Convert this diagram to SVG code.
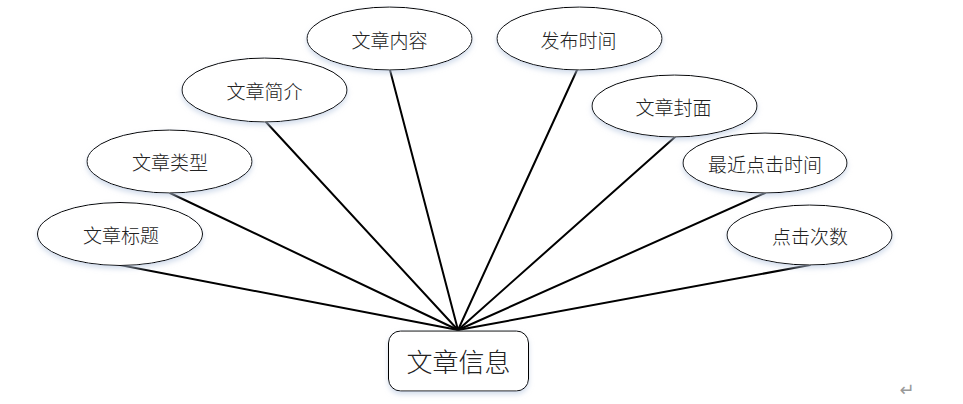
<svg xmlns="http://www.w3.org/2000/svg" width="963" height="404" viewBox="0 0 963 404">
<style>
.n ellipse{fill:#fff;stroke:#000;stroke-width:1;filter:url(#sh)}
.n text{font-family:"Noto Sans CJK SC","Noto Sans CJK JP",sans-serif;font-size:19px;font-weight:300;fill:#222;text-anchor:middle;dominant-baseline:central}
#edges line{stroke:#000;stroke-width:2;stroke-linecap:round}
</style>
<defs>
<filter id="sh" x="-10%" y="-20%" width="120%" height="150%">
<feDropShadow dx="0" dy="3" stdDeviation="2.5" flood-color="#b8c8e0" flood-opacity="0.6"/>
</filter>
</defs>
<rect width="963" height="404" fill="#fff"/>
<g id="edges">
<line x1="120" y1="265" x2="458" y2="330"/>
<line x1="170" y1="193" x2="458" y2="330"/>
<line x1="266" y1="122" x2="458" y2="330"/>
<line x1="390" y1="70" x2="458" y2="330"/>
<line x1="577" y1="70" x2="458" y2="330"/>
<line x1="675" y1="137" x2="458" y2="330"/>
<line x1="765" y1="193" x2="458" y2="330"/>
<line x1="810" y1="265" x2="458" y2="330"/>
</g>
<g id="n1" class="n"><ellipse cx="120" cy="234" rx="82.5" ry="31.5"/><text x="121" y="234">文章标题</text></g>
<g id="n2" class="n"><ellipse cx="169.5" cy="161.5" rx="82.5" ry="31.5"/><text x="170" y="161.5">文章类型</text></g>
<g id="n3" class="n"><ellipse cx="264.5" cy="90" rx="82.5" ry="32"/><text x="264.5" y="90">文章简介</text></g>
<g id="n4" class="n"><ellipse cx="389.5" cy="38.5" rx="82.5" ry="31.5"/><text x="389.5" y="39">文章内容</text></g>
<g id="n5" class="n"><ellipse cx="579.5" cy="38.5" rx="82.5" ry="31.5"/><text x="578.5" y="39">发布时间</text></g>
<g id="n6" class="n"><ellipse cx="674.5" cy="106" rx="82.5" ry="31"/><text x="673.5" y="106">文章封面</text></g>
<g id="n7" class="n"><ellipse cx="765" cy="163" rx="82" ry="30"/><text x="765" y="163">最近点击时间</text></g>
<g id="n8" class="n"><ellipse cx="809.5" cy="235" rx="82.5" ry="30"/><text x="810" y="235">点击次数</text></g>
<g id="center">
<rect x="388.5" y="331" width="140" height="60" rx="12" ry="12" fill="#fff" stroke="#000" stroke-width="1" filter="url(#sh)"/>
<text x="458.5" y="360" font-family="'Noto Sans CJK SC','Noto Sans CJK JP',sans-serif" font-size="26" font-weight="300" fill="#222" text-anchor="middle" dominant-baseline="central">文章信息</text>
</g>
<text x="907" y="396" font-family="'DejaVu Sans',sans-serif" font-size="18" fill="#999" text-anchor="middle">↵</text>
</svg>
